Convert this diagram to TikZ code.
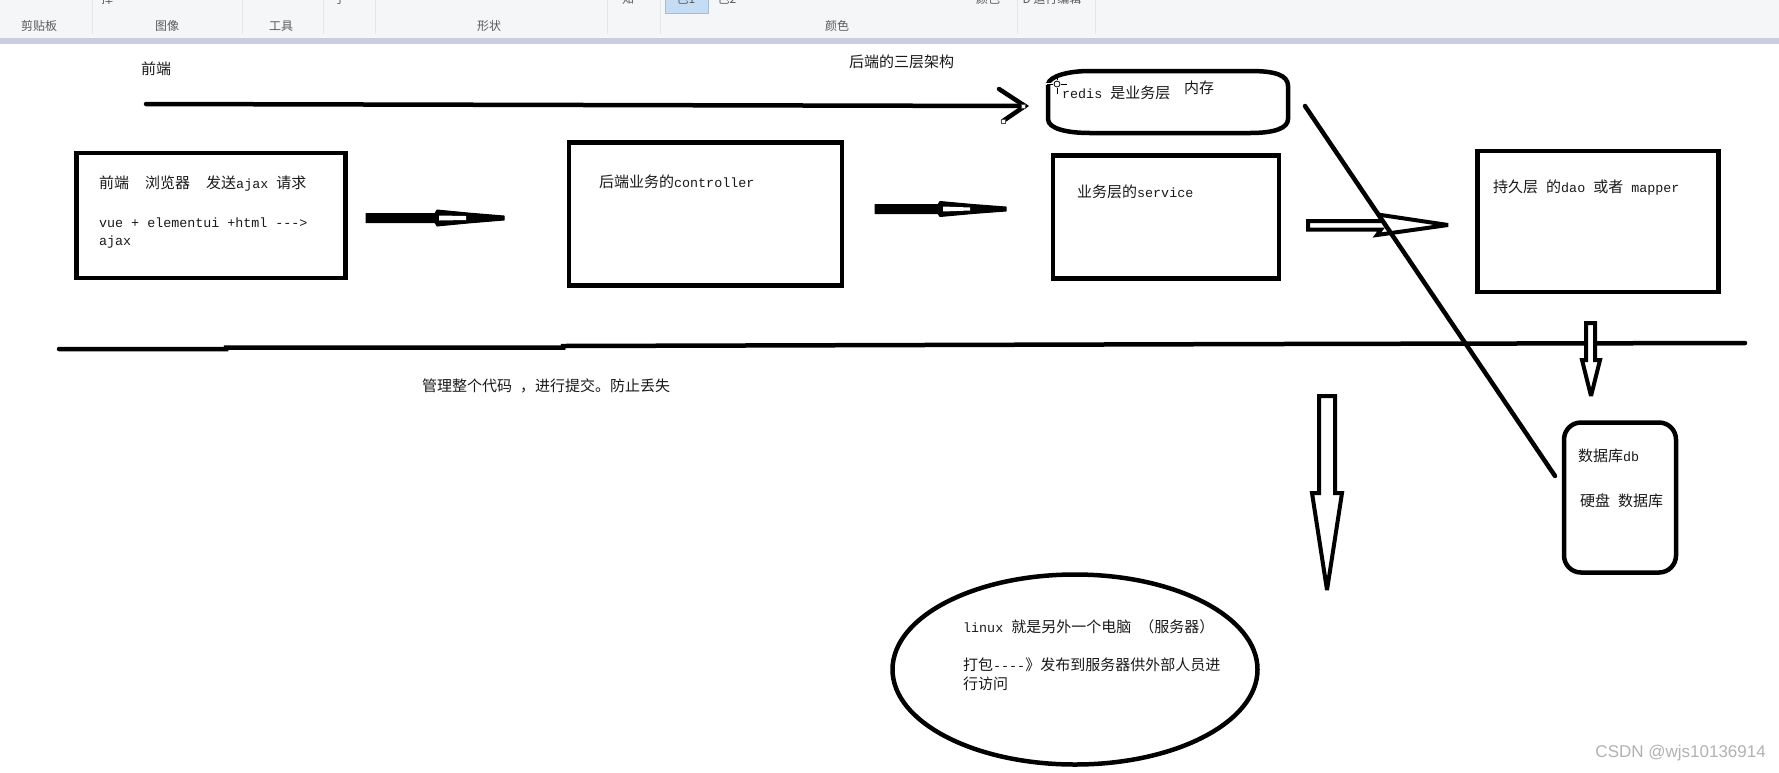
\documentclass[tikz,border=0pt]{standalone}
\usetikzlibrary{shapes.geometric}
\usepackage{fontspec}
\setmainfont{Noto Sans CJK SC}
\newfontfamily\latf[Scale=0.89]{Liberation Mono}
\newfontfamily\wmf{Liberation Sans}
\newcommand{\lat}[1]{{\latf #1}}
\definecolor{ribbon}{HTML}{F4F6F8}
\definecolor{band}{HTML}{C9CFE0}
\definecolor{btn}{HTML}{C5DCF5}
\definecolor{sep}{HTML}{E4E7EA}
\definecolor{rtxt}{HTML}{5A5A5A}
\tikzset{
  sk/.style={draw=black,line width=4.5pt,line join=miter},
  boxn/.style={sk,rectangle,inner sep=0pt,fill=none},
  txt/.style={anchor=west,inner sep=0pt,font=\fontsize{15}{18}\selectfont,text=black!90},
  rlab/.style={inner sep=0pt,font=\fontsize{12}{14}\selectfont,text=rtxt},
  stroke/.style={draw=black,line width=4.5pt,line cap=round},
  hollow/.style={draw=black,line width=4pt,fill=white,line join=miter,miter limit=3},
  solid/.style={fill=black,draw=black,line width=1pt,line join=round},
  slit/.style={fill=white,draw=none},
  handle/.style={rectangle,draw=black!70,fill=white,line width=.7pt,minimum size=4pt,inner sep=0pt}
}
\begin{document}
\begin{tikzpicture}[x=1pt,y=-1pt]
\useasboundingbox (0,0) rectangle (1779,772);
\fill[white] (0,0) rectangle (1779,772);
% ribbon
\fill[ribbon] (0,0) rectangle (1779,38);
\fill[band] (0,38) rectangle (1779,44);
\fill[btn] (665,0) rectangle (708,13);
\draw[black!15!btn,line width=.7pt] (665,0) -- (665,13) -- (708,13) -- (708,0);
\foreach \sx in {92,242,323,375,607,660,1017,1095}{\draw[sep,line width=.8pt] (\sx,0) -- (\sx,34);}
\node[rlab] (r1) at (39,26) {剪贴板};
\node[rlab] (r2) at (167,26) {图像};
\node[rlab] (r3) at (281,26) {工具};
\node[rlab] (r4) at (489,26) {形状};
\node[rlab] (r5) at (837,26) {颜色};
\node[rlab] (c1) at (107,-1) {择};
\node[rlab] (c2) at (340,-1) {子};
\node[rlab] (c3) at (628,-1) {知};
\node[rlab] (c4) at (686,-1) {色1};
\node[rlab] (c5) at (727,-1) {色2};
\node[rlab] (c6) at (988,-1) {颜色};
\node[rlab] (c7) at (1052,-1) {D 运行编辑};
% horizontal rule
\coordinate (h0) at (59,349);
\coordinate (h1) at (1745,343);
\draw[stroke] (h0) -- (226,349) -- (226,347.5) -- (563,347.5) -- (563,346) -- (1280,344) -- (h1);
% boxes
\node[boxn,minimum width=269pt,minimum height=125pt] (front) at (211,215.5) {};
\node[boxn,minimum width=273pt,minimum height=143pt] (ctrl) at (705.5,214) {};
\node[boxn,minimum width=226pt,minimum height=123pt] (svc) at (1166,217) {};
\node[boxn,minimum width=241pt,minimum height=141pt] (dao) at (1598,221.5) {};
\node[boxn,rounded corners=17pt,minimum width=112pt,minimum height=150pt] (db) at (1620,497.5) {};
\node[sk,ellipse,inner sep=0pt,minimum width=365pt,minimum height=190pt] at (1075,669.5) (linux) {};
\draw[sk] (1048,84) .. controls (1050,76) and (1068,71) .. (1090,71) -- (1250,71)
  .. controls (1275,71) and (1288,75) .. (1288,86) -- (1288,119)
  .. controls (1288,128) and (1275,133) .. (1250,133) -- (1090,133)
  .. controls (1068,133) and (1048,129) .. (1048,119) -- cycle;
\coordinate (redis) at (1048,100);
% top arrow
\coordinate (t0) at (146,104);
\coordinate (t1) at (1025,106);
\coordinate (b1) at (999,89);
\coordinate (b2) at (1003,121);
\draw[stroke] (t0) -- (t1);
\draw[stroke] (b1) -- (t1) -- (b2);
\node[handle] (h1a) at (1023,106) {};
\node[handle] (h2a) at (1003,121) {};
% cursor
\coordinate (cur) at (1057,84);
\draw[black,line width=.8pt] (cur) circle (3);
\draw[white,line width=2pt] (1046,84) -- (1053,84);
\draw[black,line width=.7pt] (1047,84) -- (1053,84) (1061,84) -- (1067,84) (1057,74) -- (1057,80) (1057,88) -- (1057,94);
% solid arrows
\draw[solid] (366,213.5) -- (435,213.5) -- (437,210) -- (468,213) -- (504,216) -- (504,220) -- (468,223) -- (437,226) -- (435,222.5) -- (366,222.5) -- cycle;
\fill[slit] (439,215.5) -- (466,216) -- (466,220) -- (439,220.5) -- cycle;
\draw[solid] (875,204.5) -- (938,204.5) -- (940,201.5) -- (973,204.5) -- (1006,207) -- (1006,211) -- (973,213.5) -- (940,216.5) -- (938,213.5) -- (875,213.5) -- cycle;
\fill[slit] (943,206.5) -- (970,207.5) -- (970,210.5) -- (943,211.5) -- cycle;
% hollow arrows
\draw[hollow] (1308,221) -- (1381,221) -- (1381,215) -- (1448,225) -- (1377,235) -- (1381,229.5) -- (1308,229.5) -- cycle;
\draw[hollow] (1586,323) -- (1595,323) -- (1595,360) -- (1600,360) -- (1591,396) -- (1582,360) -- (1586,360) -- cycle;
\draw[hollow] (1319,396) -- (1335,396) -- (1335,493) -- (1342,493) -- (1327,590) -- (1312,493) -- (1319,493) -- cycle;
% diagonal
\coordinate (d0) at (1305,106);
\coordinate (d1) at (1555,476);
\draw[stroke] (d0) -- (d1);
% labels
\node[txt] (t1n) at (141,69) {前端};
\node[txt] (t2n) at (849,62) {后端的三层架构};
\node[txt] (t3n) at (1062,93) {\lat{redis~}是业务层};
\node[txt] (t4n) at (1184,88) {内存};
\node[txt] (t5n) at (99,184) {前端\lat{~~}浏览器\lat{~~}发送\lat{ajax~}请求};
\node[txt] (t6n) at (99,223) {\lat{vue + elementui +html --->}};
\node[txt] (t7n) at (99,242) {\lat{ajax}};
\node[txt] (t8n) at (599,182) {后端业务的\lat{controller}};
\node[txt] (t9n) at (1077,192) {业务层的\lat{service}};
\node[txt] (t10n) at (1493,188) {持久层\lat{~}的\lat{dao~}或者\lat{~mapper}};
\node[txt] (t11n) at (422,386) {管理整个代码\lat{~}，进行提交。防止丢失};
\node[txt] (t12n) at (1578,456) {数据库\lat{db}};
\node[txt] (t13n) at (1580,501) {硬盘\lat{~}数据库};
\node[txt] (t14n) at (963,627) {\lat{linux~}就是另外一个电脑\lat{~}（服务器）};
\node[txt] (t15n) at (963,665) {打包\lat{----}》发布到服务器供外部人员进};
\node[txt] (t16n) at (963,684) {行访问};
\node[anchor=east,inner sep=0pt,text=black!30,font=\wmf\fontsize{17}{20}\selectfont] (wm) at (1766,753) {CSDN @wjs10136914};
\end{tikzpicture}
\end{document}
